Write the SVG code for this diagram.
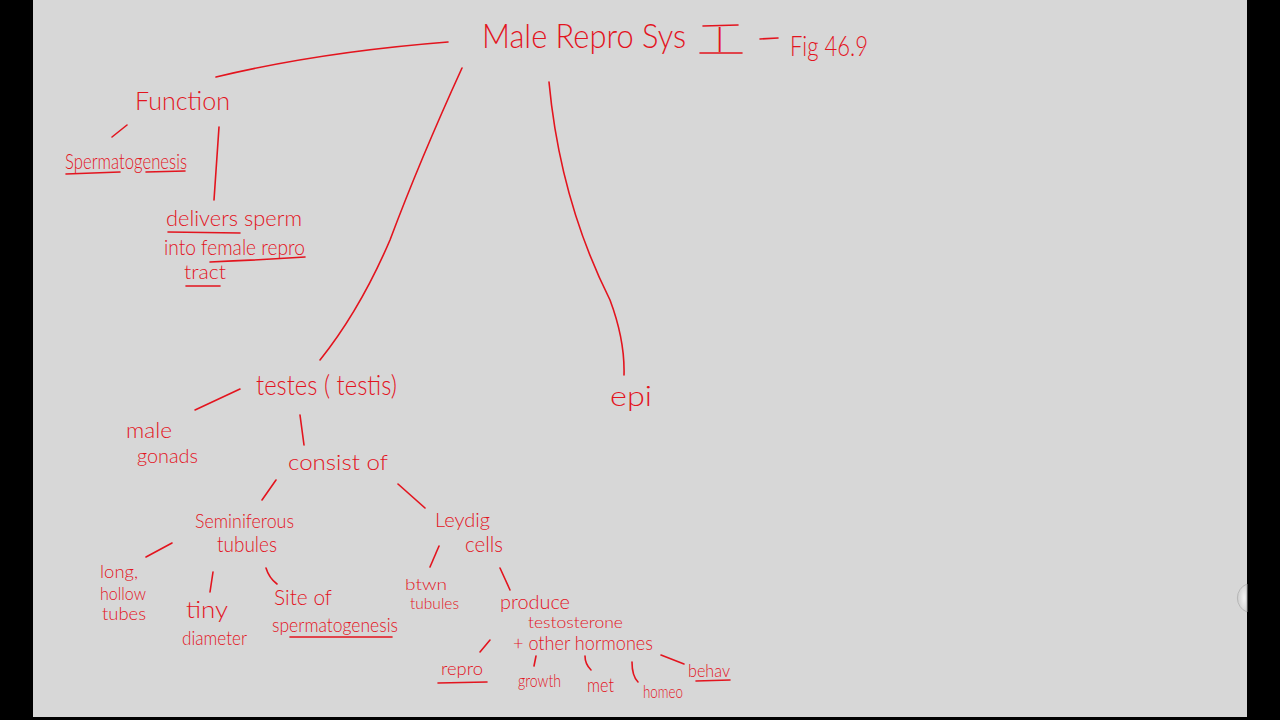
<svg xmlns="http://www.w3.org/2000/svg" width="1280" height="720" viewBox="0 0 1280 720">
<defs>
<style>
.t{font-family:"Lato","Open Sans","Liberation Sans",sans-serif;font-weight:300;fill:#e3141e;}
.l{stroke:#e3141e;stroke-width:1.6;fill:none;stroke-linecap:round;}
</style>
<radialGradient id="knob" cx="0.7" cy="0.5" r="0.8">
<stop offset="0" stop-color="#f4f4f4"/>
<stop offset="1" stop-color="#c4c4c4"/>
</radialGradient>
</defs>
<rect x="0" y="0" width="1280" height="720" fill="#000"/>
<rect x="33" y="0" width="1214" height="717" fill="#d7d7d7"/>
<path d="M1247,584 A15,15 0 0 0 1247,612 Z" fill="url(#knob)" stroke="#b0b0b0" stroke-width="0.8"/>

<g id="connectors">
<path class="l" d="M448,42 Q320,52 216,77"/>
<path class="l" d="M127,125 L112,137"/>
<path class="l" d="M219,127 L214,200"/>
<path class="l" d="M462,68 Q420,160 390,240 Q360,310 320,360"/>
<path class="l" d="M549,82 Q560,200 610,300 Q625,340 624,375"/>
<path class="l" d="M240,389 L195,410"/>
<path class="l" d="M300,415 L304,445"/>
<path class="l" d="M276,480 L262,500"/>
<path class="l" d="M398,484 L425,508"/>
<path class="l" d="M172,543 L146,557"/>
<path class="l" d="M213,572 L210,592"/>
<path class="l" d="M266,568 Q269,578 277,584"/>
<path class="l" d="M439,546 L430,567"/>
<path class="l" d="M500,568 L510,590"/>
<path class="l" d="M490,640 L480,652"/>
<path class="l" d="M536,656 L534,666"/>
<path class="l" d="M585,656 Q585,664 591,670"/>
<path class="l" d="M632,662 Q632,676 638,682"/>
<path class="l" d="M661,655 L684,664"/>
</g>

<g id="title">
<text class="t" x="482" y="48" font-size="34" textLength="204" lengthAdjust="spacingAndGlyphs">Male Repro Sys</text>
<text class="t" x="715" y="52" font-size="36">I</text>
<path class="l" d="M703,26 L738,25 M700,53 L742,53"/>
<path class="l" d="M760,39 L778,38"/>
<text class="t" x="790" y="56" font-size="28" textLength="78" lengthAdjust="spacingAndGlyphs">Fig 46.9</text>
</g>

<g id="function">
<text class="t" x="135" y="110" font-size="26" textLength="95" lengthAdjust="spacingAndGlyphs">Function</text>
</g>

<g id="spermatogenesis">
<text class="t" x="65" y="169" font-size="21" textLength="122" lengthAdjust="spacingAndGlyphs">Spermatogenesis</text>
<path class="l" d="M66,174 L120,172 M146,172 L185,171"/>
</g>

<g id="delivers">
<text class="t" x="166" y="226" font-size="22" textLength="136" lengthAdjust="spacingAndGlyphs">delivers sperm</text>
<text class="t" x="164" y="255" font-size="22" textLength="141" lengthAdjust="spacingAndGlyphs">into female repro</text>
<text class="t" x="184" y="279" font-size="20" textLength="42" lengthAdjust="spacingAndGlyphs">tract</text>
<path class="l" d="M168,232 L240,233"/>
<path class="l" d="M210,262 Q260,260 305,257"/>
<path class="l" d="M186,286 L220,286"/>
</g>

<g id="epi">
<text class="t" x="610" y="406" font-size="28" textLength="42" lengthAdjust="spacingAndGlyphs">epi</text>
</g>

<g id="testes">
<text class="t" x="256" y="395" font-size="27" textLength="141" lengthAdjust="spacingAndGlyphs">testes ( testis)</text>
</g>

<g id="male-gonads">
<text class="t" x="126" y="438" font-size="22" textLength="46" lengthAdjust="spacingAndGlyphs">male</text>
<text class="t" x="137" y="463" font-size="20" textLength="61" lengthAdjust="spacingAndGlyphs">gonads</text>
</g>

<g id="consist">
<text class="t" x="288" y="470" font-size="21" textLength="100" lengthAdjust="spacingAndGlyphs">consist of</text>
</g>

<g id="seminiferous">
<text class="t" x="195" y="528" font-size="20" textLength="99" lengthAdjust="spacingAndGlyphs">Seminiferous</text>
<text class="t" x="217" y="552" font-size="21" textLength="60" lengthAdjust="spacingAndGlyphs">tubules</text>
</g>

<g id="long-hollow">
<text class="t" x="100" y="578" font-size="17" textLength="38" lengthAdjust="spacingAndGlyphs">long,</text>
<text class="t" x="100" y="600" font-size="17" textLength="46" lengthAdjust="spacingAndGlyphs">hollow</text>
<text class="t" x="102" y="620" font-size="17" textLength="44" lengthAdjust="spacingAndGlyphs">tubes</text>
</g>

<g id="tiny">
<text class="t" x="186" y="618" font-size="23" textLength="42" lengthAdjust="spacingAndGlyphs">tiny</text>
<text class="t" x="182" y="645" font-size="19" textLength="65" lengthAdjust="spacingAndGlyphs">diameter</text>
</g>

<g id="site">
<text class="t" x="274" y="605" font-size="21" textLength="58" lengthAdjust="spacingAndGlyphs">Site of</text>
<text class="t" x="272" y="632" font-size="19" textLength="126" lengthAdjust="spacingAndGlyphs">spermatogenesis</text>
<path class="l" d="M290,637 L392,637"/>
</g>

<g id="leydig">
<text class="t" x="435" y="527" font-size="20" textLength="55" lengthAdjust="spacingAndGlyphs">Leydig</text>
<text class="t" x="465" y="552" font-size="21" textLength="38" lengthAdjust="spacingAndGlyphs">cells</text>
</g>

<g id="btwn">
<text class="t" x="405" y="590" font-size="16" textLength="42" lengthAdjust="spacingAndGlyphs">btwn</text>
<text class="t" x="410" y="609" font-size="15" textLength="49" lengthAdjust="spacingAndGlyphs">tubules</text>
</g>

<g id="produce">
<text class="t" x="500" y="609" font-size="19" textLength="70" lengthAdjust="spacingAndGlyphs">produce</text>
<text class="t" x="528" y="628" font-size="16" textLength="95" lengthAdjust="spacingAndGlyphs">testosterone</text>
<text class="t" x="513" y="650" font-size="20" textLength="140" lengthAdjust="spacingAndGlyphs">+ other hormones</text>
</g>

<g id="repro">
<text class="t" x="441" y="675" font-size="18" textLength="42" lengthAdjust="spacingAndGlyphs">repro</text>
<path class="l" d="M438,683 L487,682"/>
</g>
<g id="growth">
<text class="t" x="518" y="687" font-size="17" textLength="43" lengthAdjust="spacingAndGlyphs">growth</text>
</g>
<g id="met">
<text class="t" x="587" y="692" font-size="19" textLength="27" lengthAdjust="spacingAndGlyphs">met</text>
</g>
<g id="homeo">
<text class="t" x="643" y="698" font-size="17" textLength="40" lengthAdjust="spacingAndGlyphs">homeo</text>
</g>
<g id="behav">
<text class="t" x="688" y="677" font-size="18" textLength="42" lengthAdjust="spacingAndGlyphs">behav</text>
<path class="l" d="M696,681 L730,680"/>
</g>
</svg>
